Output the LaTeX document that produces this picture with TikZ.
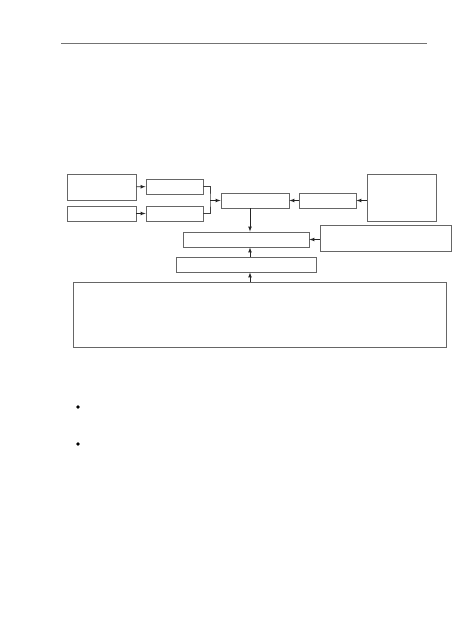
\documentclass[tikz,border=0pt]{standalone}
\usepackage{tikz}

\begin{document}
\begin{tikzpicture}
[x=1pt,y=-1pt,
  boxDecorate/.style={shape=rectangle,inner sep=0pt,draw=black!60,line width=0.9pt},%
  lineDecorate/.style={-,draw=black!75,line width=0.7pt},%
  arrowDecorate/.style={-latex,draw=black!85,line width=0.7pt},%
  dotDecorate/.style={shape=circle,inner sep=0pt,minimum size=3.6pt,fill=black}]
\useasboundingbox (0,0) rectangle (474,632);
%% top rule
\coordinate (r1) at (61,43);
\coordinate (r2) at (427,43);
\draw[lineDecorate,draw=black!55,line width=1pt] (r1) -- (r2);
%% nodes or boxes
\node (1) at (101.5,187) [boxDecorate,minimum width=69pt,minimum height=26pt] {};
\node (2) at (101.5,213.5) [boxDecorate,minimum width=69pt,minimum height=15pt] {};
\node (3) at (174.5,186.5) [boxDecorate,minimum width=57pt,minimum height=15pt] {};
\node (4) at (174.5,213.5) [boxDecorate,minimum width=57pt,minimum height=15pt] {};
\node (5) at (255,200.5) [boxDecorate,minimum width=68pt,minimum height=15pt] {};
\node (6) at (327.5,200.5) [boxDecorate,minimum width=57pt,minimum height=15pt] {};
\node (7) at (401.5,197.5) [boxDecorate,minimum width=69pt,minimum height=47pt] {};
\node (8) at (246,239.5) [boxDecorate,minimum width=126pt,minimum height=15pt] {};
\node (9) at (385.5,238) [boxDecorate,minimum width=131pt,minimum height=26pt] {};
\node (10) at (246,264.5) [boxDecorate,minimum width=140pt,minimum height=15pt] {};
\node (11) at (259.5,314.5) [boxDecorate,minimum width=373pt,minimum height=65pt] {};
%% bullets
\node (b1) at (78,407) [dotDecorate] {};
\node (b2) at (78,444) [dotDecorate] {};
%% helper points
\coordinate (axis) at (250,0);
\coordinate (join) at (210,200.5);
%% edges or lines
\draw[lineDecorate] (3.east) -| (join) |- (4.east);
\path
(1) edge[arrowDecorate] (3)
(2) edge[arrowDecorate] (4)
(join) edge[arrowDecorate] (5.west)
(6) edge[arrowDecorate] (5)
(7.west |- 6.east) edge[arrowDecorate] (6.east)
(9.west |- 8.east) edge[arrowDecorate] (8.east)
(5.south -| axis) edge[arrowDecorate] (8.north -| axis)
(10.north -| axis) edge[arrowDecorate] (8.south -| axis)
(11.north -| axis) edge[arrowDecorate] (10.south -| axis);
\end{tikzpicture}
\end{document}
